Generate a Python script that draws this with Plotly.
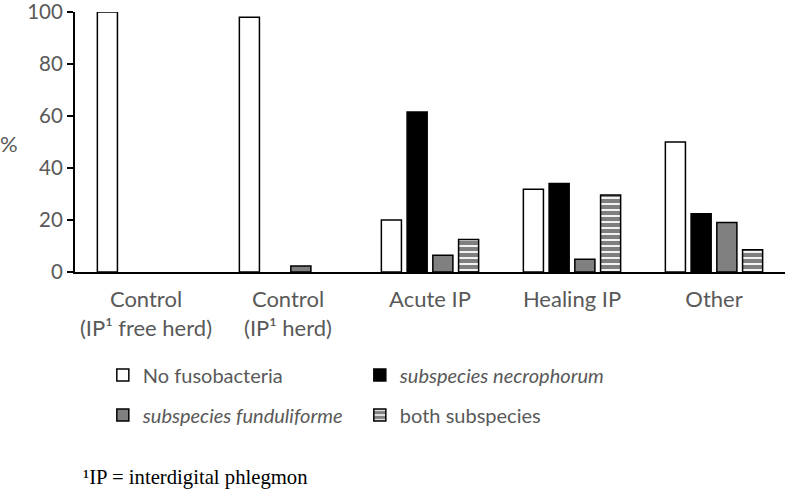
import plotly.graph_objects as go

categories = ["Control<br>(IP¹ free herd)", "Control<br>(IP¹ herd)", "Acute IP", "Healing IP", "Other"]
no_fuso = [100, 98, 20, 31.8, 50]
necrophorum = [0, 0, 61.5, 34, 22.4]
funduliforme = [0, 2.3, 6.4, 4.9, 19]
both = [0, 0, 12.5, 29.6, 8.6]
y_ticks = [0, 20, 40, 60, 80, 100]

FONT = "Lato"
GRAY = "#595959"


def shown(vals):
    # zero-height bars are not drawn in the reference
    return [v if v > 0 else None for v in vals]


fig = go.Figure()
fig.add_trace(go.Bar(x=categories, y=shown(no_fuso), name="No fusobacteria",
                     marker=dict(color="white", line=dict(color="black", width=1.5)),
                     legend="legend"))
fig.add_trace(go.Bar(x=categories, y=shown(necrophorum), name="<i>subspecies necrophorum</i>",
                     marker=dict(color="black", line=dict(color="black", width=1.5)),
                     legend="legend"))
fig.add_trace(go.Bar(x=categories, y=shown(funduliforme), name="<i>subspecies funduliforme</i>",
                     marker=dict(color="#808080", line=dict(color="black", width=1.5)),
                     legend="legend2"))
fig.add_trace(go.Bar(x=categories, y=shown(both), name="both subspecies",
                     marker=dict(color="white", line=dict(color="black", width=1.5),
                                 pattern=dict(shape="-", fgcolor="black", bgcolor="white",
                                              size=6, solidity=0.7, fillmode="overlay")),
                     legend="legend2"))

PLOT_TOP = 12
PLOT_BOTTOM = 272
PLOT_H = PLOT_BOTTOM - PLOT_TOP


def py(pixel_y):
    # convert a pixel row of the page into paper coordinates
    return (PLOT_BOTTOM - pixel_y) / PLOT_H


LEG_X = 0.0392
fig.update_layout(
    width=785, height=490,
    margin=dict(l=75, r=0, t=PLOT_TOP, b=490 - PLOT_BOTTOM, autoexpand=False),
    paper_bgcolor="white", plot_bgcolor="white",
    barmode="group", bargap=0.275, bargroupgap=0.22,
    font=dict(family=FONT, size=21, color=GRAY),
    showlegend=True,
    legend=dict(orientation="h", x=LEG_X, y=py(375), xanchor="left", yanchor="middle",
                entrywidth=212, entrywidthmode="pixels", traceorder="normal",
                font=dict(family=FONT, size=20, color=GRAY), bgcolor="rgba(0,0,0,0)"),
    legend2=dict(orientation="h", x=LEG_X, y=py(415), xanchor="left", yanchor="middle",
                 entrywidth=212, entrywidthmode="pixels", traceorder="normal",
                 font=dict(family=FONT, size=20, color=GRAY), bgcolor="rgba(0,0,0,0)"),
    xaxis=dict(showline=True, linecolor="black", linewidth=2, ticks="",
               tickfont=dict(family=FONT, size=22, color=GRAY), showgrid=False,
               range=[-0.5, 4.5], automargin=False, ticklabelstandoff=7),
    yaxis=dict(range=[0, 100], tickvals=y_ticks, showline=True, linecolor="black",
               linewidth=2, ticks="outside", ticklen=6, tickcolor="black", tickwidth=2,
               showgrid=False, zeroline=False, automargin=False,
               ticklabeloverflow="allow",
               tickfont=dict(family=FONT, size=20.5, color=GRAY)),
    annotations=[
        dict(text="%", xref="paper", yref="paper", x=-0.108, y=py(143), xanchor="left",
             yanchor="middle", showarrow=False, font=dict(family=FONT, size=22, color=GRAY)),
        dict(text="¹IP = interdigital phlegmon", xref="paper", yref="paper",
             x=(81 - 75) / 710, y=py(478), xanchor="left", yanchor="middle",
             showarrow=False,
             font=dict(family="Liberation Serif", size=20.7, color="black")),
    ],
)
fig.update_traces(cliponaxis=False)

fig.write_html("out.html", config={"displayModeBar": False},
               post_script="document.body.style.margin='0';")
